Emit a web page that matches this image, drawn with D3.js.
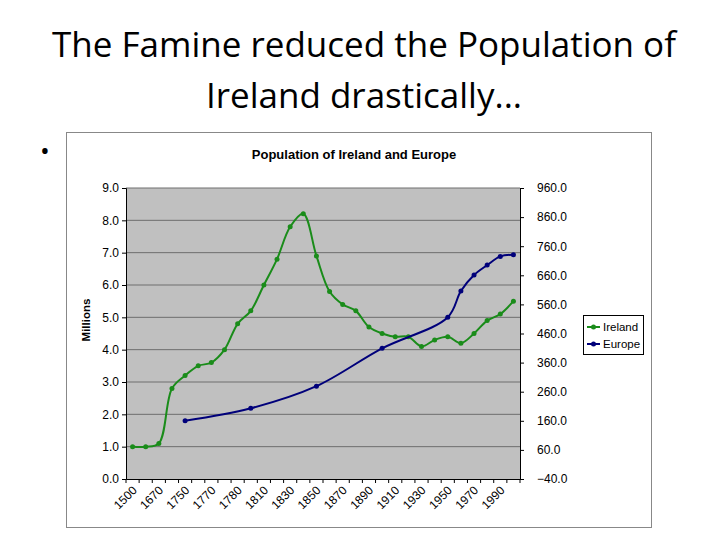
<!DOCTYPE html>
<html><head><meta charset="utf-8">
<script src="https://cdn.jsdelivr.net/npm/d3@7"></script>
<style>body{margin:0;background:#fff}svg{display:block}</style>
</head><body><svg id="c" width="728" height="546"></svg>
<script>
const categories = ["1500","1600","1670","1700","1750","1760","1770","1775","1780","1800","1810","1820","1830","1840","1850","1860","1870","1880","1890","1900","1910","1920","1930","1940","1950","1960","1970","1980","1990","2000"];
const ireland = [1.0,1.0,1.1,2.8,3.2,3.5,3.6,4.0,4.8,5.2,6.0,6.8,7.8,8.2,6.9,5.8,5.4,5.2,4.7,4.5,4.4,4.4,4.1,4.3,4.4,4.2,4.5,4.9,5.1,5.5];
const europe = [null,null,null,null,160,null,null,null,null,203,null,null,null,null,279,null,null,null,null,409,null,null,null,null,516,606,661,695,725,731];
const leftTicks = [0,1,2,3,4,5,6,7,8,9];
const rightTicks = [-40,60,160,260,360,460,560,660,760,860,960];

const svg = d3.select("#c");
const font = "Liberation Sans, Arial, sans-serif";
svg.append("text").attr("x",364).attr("y",57).attr("text-anchor","middle").attr("font-family","Open Sans, sans-serif").attr("font-size",35).text("The Famine reduced the Population of");
svg.append("text").attr("x",364).attr("y",108).attr("text-anchor","middle").attr("font-family","Open Sans, sans-serif").attr("font-size",35).text("Ireland drastically...");
svg.append("text").attr("x",40).attr("y",160).attr("font-family","Open Sans, sans-serif").attr("font-size",26).text("•");

svg.append("rect").attr("x",66.5).attr("y",132.5).attr("width",585).attr("height",395).attr("fill","#fff").attr("stroke","#888");
svg.append("text").attr("x",354).attr("y",159).attr("text-anchor","middle").attr("font-family",font).attr("font-weight","bold").attr("font-size",13).text("Population of Ireland and Europe");

const L=126,R=520,T=188,B=479;
const x = d3.scaleBand().domain(categories).range([L,R]);
const y = d3.scaleLinear().domain([0,9]).range([B,T]);
const y2 = d3.scaleLinear().domain([-40,960]).range([B,T]);

svg.append("rect").attr("x",L).attr("y",T).attr("width",R-L).attr("height",B-T).attr("fill","#c0c0c0");
svg.append("g").selectAll("line").data(leftTicks.slice(1)).join("line")
 .attr("x1",L).attr("x2",R).attr("y1",d=>y(d)).attr("y2",d=>y(d)).attr("stroke","#6e6e6e").attr("stroke-width",1);

const ga = svg.append("g").attr("transform",`translate(${L},0)`).call(d3.axisLeft(y).tickValues(leftTicks).tickFormat(d3.format(".1f")).tickSize(4));
const gr = svg.append("g").attr("transform",`translate(${R},0)`).call(d3.axisRight(y2).tickValues(rightTicks).tickFormat(d3.format(".1f")).tickSize(4).tickPadding(13));
const gx = svg.append("g").attr("transform",`translate(0,${B})`).call(d3.axisBottom(x).tickSize(0).tickFormat((d,i)=>i%2===0?d:""));
gx.selectAll("text").attr("text-anchor","end").attr("transform","translate(-3,4) rotate(-45)").attr("dx",0).attr("dy","0.7em");
const bounds = categories.map((c,i)=>x(c)).concat([R]);
svg.append("g").selectAll("line").data(bounds).join("line").attr("x1",d=>d).attr("x2",d=>d).attr("y1",B).attr("y2",B+4).attr("stroke","#000");
[ga,gr,gx].forEach(g=>{g.selectAll("text").attr("font-family",font).attr("font-size",12).attr("fill","#000");g.selectAll(".domain").attr("stroke","#000");});

svg.append("text").attr("transform","translate(90,320) rotate(-90)").attr("text-anchor","middle").attr("font-family",font).attr("font-weight","bold").attr("font-size",11.5).text("Millions");

const cx = (d,i)=>x(categories[i])+x.bandwidth()/2;
const gI="#1a8c1a", bE="#00007a";
const irl = ireland.map((v,i)=>[cx(v,i),y(v)]);
svg.append("path").attr("d",d3.line().curve(d3.curveCatmullRom)(irl)).attr("fill","none").attr("stroke",gI).attr("stroke-width",2);
svg.append("g").selectAll("circle").data(irl).join("circle").attr("cx",d=>d[0]).attr("cy",d=>d[1]).attr("r",2.5).attr("fill",gI);
const eur = europe.map((v,i)=>v==null?null:[cx(v,i),y2(v)]).filter(d=>d);
svg.append("path").attr("d",d3.line().curve(d3.curveCatmullRom)(eur)).attr("fill","none").attr("stroke",bE).attr("stroke-width",2);
svg.append("g").selectAll("circle").data(eur).join("circle").attr("cx",d=>d[0]).attr("cy",d=>d[1]).attr("r",2.5).attr("fill",bE);

const lg = svg.append("g");
lg.append("rect").attr("x",583.5).attr("y",315.5).attr("width",60).attr("height",39).attr("fill","#fff").attr("stroke","#000");
[["Ireland",gI,327],["Europe",bE,344]].forEach(([t,c,yy])=>{
 lg.append("line").attr("x1",587).attr("x2",600).attr("y1",yy).attr("y2",yy).attr("stroke",c).attr("stroke-width",2);
 lg.append("circle").attr("cx",593.5).attr("cy",yy).attr("r",2.5).attr("fill",c);
 lg.append("text").attr("x",603).attr("y",yy+4).attr("font-family",font).attr("font-size",11.5).text(t);
});
</script></body></html>
